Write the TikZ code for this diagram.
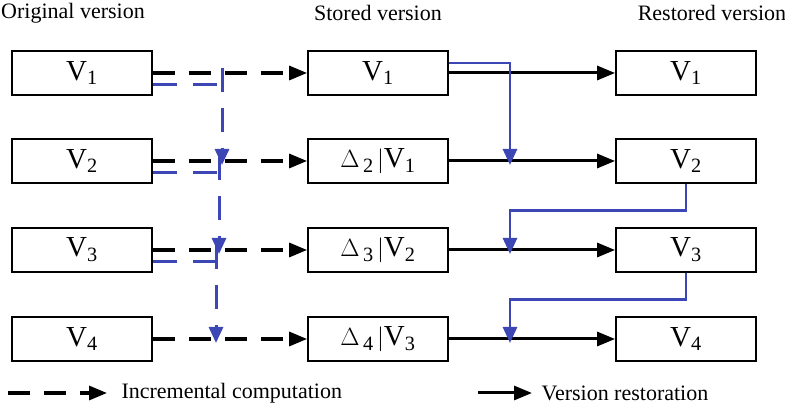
\documentclass[tikz,border=0pt]{standalone}
\usepackage{fontspec}
\setmainfont{Liberation Serif}
\usetikzlibrary{arrows.meta}
\definecolor{bl}{RGB}{60,70,180}
\begin{document}
\begin{tikzpicture}[x=1pt,y=-1pt,
 box/.style={draw,line width=1.8pt,minimum width=140pt,minimum height=44pt,inner sep=0,font=\rmfamily\fontsize{29}{29}\selectfont},
 ttl/.style={font=\rmfamily\fontsize{22}{22}\selectfont},
 tip/.style={-{Triangle[length=18pt,width=14pt]}},
 dsh/.style={line width=3.2pt,dash pattern=on 22pt off 14pt,tip},
 sol/.style={line width=3pt,tip},
 bd/.style={bl,line width=3pt,dash pattern=on 24pt off 16pt},
 bda/.style={bd,-{Triangle[length=16pt,width=14pt]}},
 bs/.style={bl,line width=2.8pt,-{Triangle[length=16pt,width=14pt]}}]
\useasboundingbox (0,0) rectangle (785,411);
\node[ttl] (t1) at (73,13) {Original version};
\node[ttl] (t2) at (378,13) {Stored version};
\node[ttl] (t3) at (712,13) {Restored version};
\foreach \i/\y in {1/73,2/161,3/250,4/339}{
 \node[box] (a\i) at (82,\y) {V\textsubscript{\i}};
 \node[box] (c\i) at (686,\y) {V\textsubscript{\i}};
}
\node[box] (b1) at (378,73) {V\textsubscript{1}};
\node[box] (b2) at (378,161) {$\Delta$\textsubscript{\,2\,}$|$V\textsubscript{1}};
\node[box] (b3) at (378,250) {$\Delta$\textsubscript{\,3\,}$|$V\textsubscript{2}};
\node[box] (b4) at (378,339) {$\Delta$\textsubscript{\,4\,}$|$V\textsubscript{3}};
\foreach \i in {1,...,4}{
 \draw[dsh] (a\i) -- (b\i);
 \draw[sol] (b\i) -- (c\i);
}
\foreach \i/\j/\x in {1/2/222,2/3/219,3/4/216}{
 \coordinate (s\i) at ([yshift=-12pt]a\i.east);
 \draw[bd] (s\i) -- (\x,0 |- s\i);
 \draw[bda] ([yshift=17pt]\x,0 |- s\i) -- ([yshift=-4pt]\x,0 |- a\j.east);
}
\coordinate (r1) at ([yshift=10pt]b1.east);
\draw[bs] (r1) -- (510,0 |- r1) -- ([yshift=-4pt]510,0 |- b2.east);
\draw[bs] (c2.south) -- ++(0,27) -| ([yshift=-4pt]510,0 |- b3.east);
\draw[bs] (c3.south) -- ++(0,27) -| ([yshift=-4pt]510,0 |- b4.east);
\coordinate (l1) at (8,393); \coordinate (l2) at (107,393);
\draw[dsh] (l1) -- (l2);
\node[ttl,anchor=west] (lt1) at (118,393) {Incremental computation};
\coordinate (l3) at (478,393); \coordinate (l4) at (532,393);
\draw[sol] (l3) -- (l4);
\node[ttl,anchor=west] (lt2) at (538,393) {Version restoration};
\end{tikzpicture}
\end{document}
